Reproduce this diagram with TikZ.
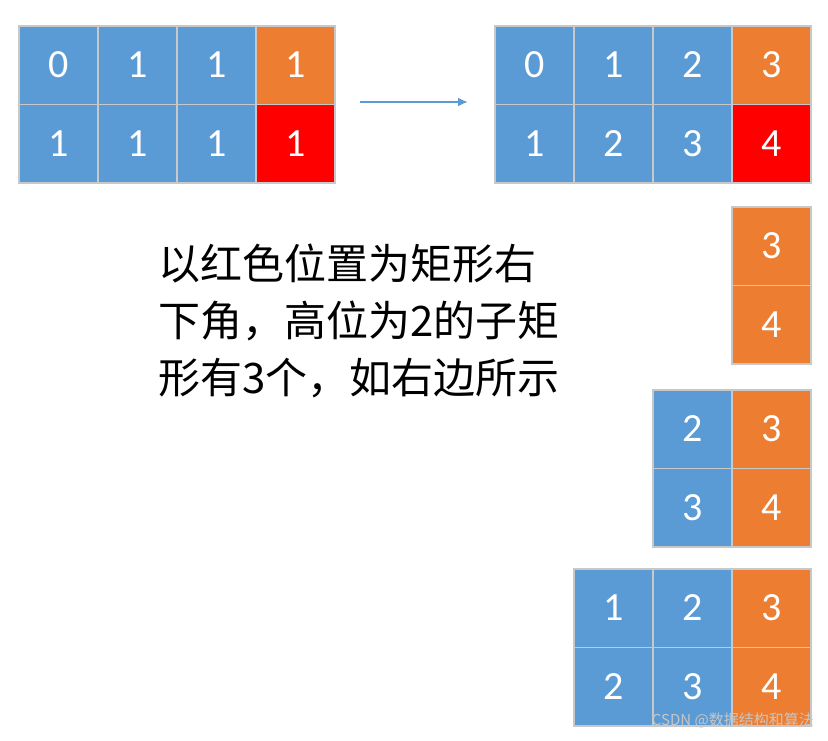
\documentclass[tikz,border=0pt]{standalone}
\usepackage{fontspec}
\setmainfont{Carlito}
\newfontfamily\cjk{Noto Sans CJK SC}
\definecolor{cblue}{HTML}{5B9BD5}
\definecolor{corange}{HTML}{ED7D31}
\definecolor{cred}{HTML}{FF0000}
\definecolor{cedge}{HTML}{C8C8C8}
\definecolor{carrow}{HTML}{5B9BD5}
\tikzset{
 cell/.style={draw=cedge,line width=1.5pt,minimum width=79pt,minimum height=78.5pt,inner sep=0pt,anchor=north west,text=white,font=\fontsize{40}{40}\selectfont},
 bc/.style={cell,fill=cblue}, oc/.style={cell,fill=corange}, rc/.style={cell,fill=cred},
 arr/.style={draw=carrow,line width=2pt,-{Latex[length=10pt,width=9pt]}},
}
\usetikzlibrary{arrows.meta}
\begin{document}
\begin{tikzpicture}[x=1pt,y=-1pt]
\useasboundingbox[fill=white] (0,0) rectangle (828,740);
% left grid
\node[bc] (l00) at (18,25) {0};
\node[bc] (l01) at (97,25) {1};
\node[bc] (l02) at (176,25) {1};
\node[oc] (l03) at (255,25) {1};
\node[bc] (l10) at (18,103.5) {1};
\node[bc] (l11) at (97,103.5) {1};
\node[bc] (l12) at (176,103.5) {1};
\node[rc] (l13) at (255,103.5) {1};
% right grid
\node[bc] (r00) at (494,25) {0};
\node[bc] (r01) at (573,25) {1};
\node[bc] (r02) at (652,25) {2};
\node[oc] (r03) at (731,25) {3};
\node[bc] (r10) at (494,103.5) {1};
\node[bc] (r11) at (573,103.5) {2};
\node[bc] (r12) at (652,103.5) {3};
\node[rc] (r13) at (731,103.5) {4};
\coordinate (as) at (360,102);
\coordinate (ae) at (468,102);
\draw[arr] (as) -- (ae);
% sub rectangles
\node[oc] (a0) at (731,206) {3};
\node[oc] (a1) at (731,284.5) {4};
\node[bc] (b00) at (652,389) {2};
\node[oc] (b01) at (731,389) {3};
\node[bc] (b10) at (652,467.5) {3};
\node[oc] (b11) at (731,467.5) {4};
\node[bc] (c00) at (573,568) {1};
\node[bc] (c01) at (652,568) {2};
\node[oc] (c02) at (731,568) {3};
\node[bc] (c10) at (573,646.5) {2};
\node[bc] (c11) at (652,646.5) {3};
\node[oc] (c12) at (731,646.5) {4};
% text
\node[anchor=north west,align=left,inner sep=0pt,font=\cjk\fontsize{42}{57}\selectfont] (txt) at (158,244)
 {以红色位置为矩形右\\下角，高位为2的子矩\\形有3个，如右边所示};
\node[anchor=east,inner sep=0pt,text=white!55!gray,font=\cjk\fontsize{15}{15}\selectfont] (wm) at (814,720) {CSDN @数据结构和算法};
\end{tikzpicture}
\end{document}
